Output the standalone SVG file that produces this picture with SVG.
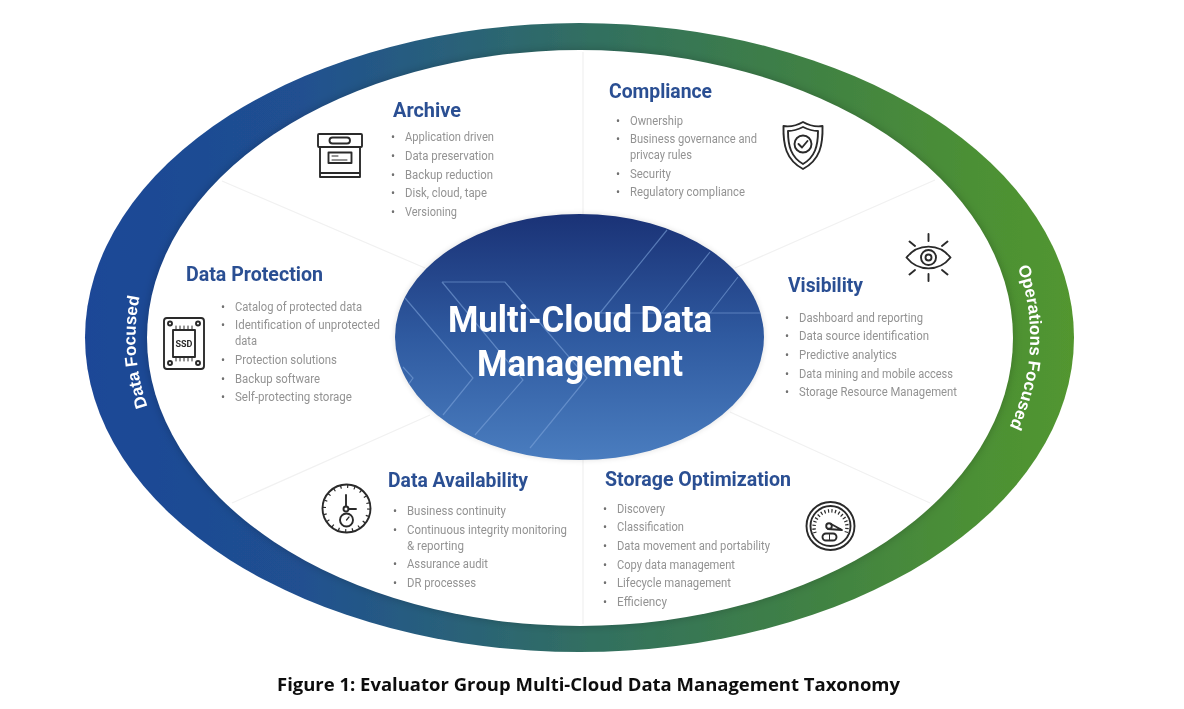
<svg xmlns="http://www.w3.org/2000/svg" width="1184" height="709" viewBox="0 0 1184 709">
<style>
text{font-family:Roboto,"Liberation Sans",sans-serif}
.h{font-size:20px;font-weight:700;fill:#2b4f93}
.l{font-size:12px;fill:#939393}
.b{font-size:12px;fill:#707070}
.c{font-size:36px;font-weight:700;fill:#fff}
.r{font-size:17px;font-weight:700;fill:#fff;font-family:"Liberation Sans",Arial,sans-serif}
.i{fill:none;stroke:#2a2a2a;stroke-width:1.9;stroke-linecap:round;stroke-linejoin:round}
.d{stroke:#f1f1f1;stroke-width:1.2;fill:none}
.g{stroke:#7ba2d8;stroke-opacity:.6;stroke-width:1.2;fill:none}
.soft{filter:url(#soft)}
</style>
<defs>
<linearGradient id="ring" x1="85" y1="0" x2="1074" y2="0" gradientUnits="userSpaceOnUse">
<stop offset="0" stop-color="#1d4797"/><stop offset=".22" stop-color="#205090"/><stop offset=".38" stop-color="#2a6278"/><stop offset=".52" stop-color="#32705f"/><stop offset=".72" stop-color="#3f8045"/><stop offset=".9" stop-color="#4c9035"/><stop offset="1" stop-color="#52962f"/>
</linearGradient>
<linearGradient id="core" x1="0" y1="0" x2="0" y2="1">
<stop offset="0" stop-color="#1a3276"/><stop offset=".5" stop-color="#2f5aa0"/><stop offset="1" stop-color="#4a7dbf"/>
</linearGradient>
<filter id="soft" x="-5%" y="-5%" width="110%" height="110%"><feGaussianBlur stdDeviation="0.45"/></filter>
<filter id="shadow" x="-10%" y="-10%" width="120%" height="120%"><feGaussianBlur stdDeviation="5"/></filter>
<filter id="halo" x="-10%" y="-10%" width="120%" height="120%"><feGaussianBlur stdDeviation="2"/></filter>
<clipPath id="coreClip"><ellipse cx="579.5" cy="337" rx="184.500" ry="123"/></clipPath>
<path id="arcL" d="M148,408 A445 300 0 0 1 140,295"/>
<path id="arcR" d="M1018,268 A450 300 0 0 1 1010,426"/>
</defs>
<rect width="1184" height="709" fill="#fff"/>

<g id="ring-band">
<ellipse cx="579.5" cy="337.5" rx="494.5" ry="314.5" fill="url(#ring)" class="soft"/>
<ellipse cx="580" cy="338" rx="433" ry="288" fill="#000" fill-opacity=".22" filter="url(#shadow)"/>
<ellipse cx="580" cy="338" rx="433" ry="288" fill="#fff"/>
</g>

<g id="connectors">
<path class="d" d="M583,52V214M583,460V624M222,181L425,268M232,503L430,415M735,268L935,180M730,412L930,503"/>
</g>

<g id="band-labels" class="soft">
<text class="r" id="data-focused"><textPath href="#arcL" startOffset="50%" text-anchor="middle">Data Focused</textPath></text>
<text class="r" id="operations-focused"><textPath href="#arcR" startOffset="50%" text-anchor="middle">Operations Focused</textPath></text>
</g>

<g id="center">
<ellipse cx="579.5" cy="337" rx="186" ry="124.5" fill="#000" fill-opacity=".08" filter="url(#halo)"/>
<ellipse cx="579.5" cy="337" rx="184.500" ry="123" fill="url(#core)"/>
<g clip-path="url(#coreClip)">
<path class="g" d="M442,282H505L587,378L530,448M442,282L523,380L475,435M405,298L473,378L443,415M403,367L413,378L403,392M667,230L600,313H760M710,252L662,313M738,277L710,313"/>
</g>
<g class="soft">
<text class="c" x="448" y="331.5" textLength="264" lengthAdjust="spacingAndGlyphs">Multi-Cloud Data</text>
<text class="c" x="477" y="376" textLength="206" lengthAdjust="spacingAndGlyphs">Management</text>
</g>
</g>

<g id="archive" class="soft">
<text class="h" x="393" y="117" textLength="68" lengthAdjust="spacingAndGlyphs">Archive</text>
<g class="b"><text x="391" y="141">•</text><text x="391" y="160">•</text><text x="391" y="178.5">•</text><text x="391" y="197">•</text><text x="391" y="215.5">•</text></g>
<g class="l">
<text x="405" y="141" textLength="89" lengthAdjust="spacingAndGlyphs">Application driven</text>
<text x="405" y="160" textLength="89" lengthAdjust="spacingAndGlyphs">Data preservation</text>
<text x="405" y="178.5" textLength="88" lengthAdjust="spacingAndGlyphs">Backup reduction</text>
<text x="405" y="197" textLength="82" lengthAdjust="spacingAndGlyphs">Disk, cloud, tape</text>
<text x="405" y="215.5" textLength="52" lengthAdjust="spacingAndGlyphs">Versioning</text>
</g>
<g class="i">
<rect x="318" y="134" width="44" height="13" rx="1"/><rect x="329.5" y="137.5" width="20.5" height="6" rx="3"/>
<path d="M320,147V177H360V147M320,173H360"/><rect x="328.5" y="152.5" width="23" height="10.5"/>
<path d="M332,156H338M332,160H347" stroke-width="1"/>
</g>
</g>

<g id="compliance" class="soft">
<text class="h" x="609" y="98" textLength="103" lengthAdjust="spacingAndGlyphs">Compliance</text>
<g class="b"><text x="616" y="124.5">•</text><text x="616" y="143">•</text><text x="616" y="177.5">•</text><text x="616" y="196">•</text></g>
<g class="l">
<text x="630" y="124.5" textLength="53" lengthAdjust="spacingAndGlyphs">Ownership</text>
<text x="630" y="143" textLength="127" lengthAdjust="spacingAndGlyphs">Business governance and</text>
<text x="630" y="159" textLength="62" lengthAdjust="spacingAndGlyphs">privcay rules</text>
<text x="630" y="177.5" textLength="41" lengthAdjust="spacingAndGlyphs">Security</text>
<text x="630" y="196" textLength="115" lengthAdjust="spacingAndGlyphs">Regulatory compliance</text>
</g>
<g class="i">
<path d="M803,122C796,126 790,127 783.5,126C783,145 786,160 803,169C820,160 823,145 822.5,126C816,127 810,126 803,122Z"/>
<path d="M803,127C797,130 793,131 788,131C788,146 791,157 803,164C815,157 818,146 818,131C813,131 809,130 803,127Z"/>
<circle cx="803" cy="144" r="8.5"/><path d="M798.5,144L802,147.5L807.5,141"/>
</g>
</g>

<g id="data-protection" class="soft">
<text class="h" x="186" y="280.5" textLength="137" lengthAdjust="spacingAndGlyphs">Data Protection</text>
<g class="b"><text x="221" y="310.5">•</text><text x="221" y="329">•</text><text x="221" y="364">•</text><text x="221" y="382.500">•</text><text x="221" y="401">•</text></g>
<g class="l">
<text x="235" y="310.5" textLength="127" lengthAdjust="spacingAndGlyphs">Catalog of protected data</text>
<text x="235" y="329" textLength="145" lengthAdjust="spacingAndGlyphs">Identification of unprotected</text>
<text x="235" y="345" textLength="22" lengthAdjust="spacingAndGlyphs">data</text>
<text x="235" y="364" textLength="102" lengthAdjust="spacingAndGlyphs">Protection solutions</text>
<text x="235" y="382.5" textLength="85" lengthAdjust="spacingAndGlyphs">Backup software</text>
<text x="235" y="401" textLength="117" lengthAdjust="spacingAndGlyphs">Self-protecting storage</text>
</g>
<g class="i">
<rect x="164" y="318" width="40" height="51" rx="3"/><rect x="173" y="330" width="22" height="27"/>
<circle cx="170" cy="323.5" r="2"/><circle cx="198" cy="323.5" r="2"/><circle cx="170" cy="363" r="2"/><circle cx="198" cy="363" r="2"/>
<path d="M176,330V326M180,330V326M184,330V326M188,330V326M192,330V326M176,357V361M180,357V361M184,357V361M188,357V361M192,357V361" stroke-width="1"/>
</g>
<text x="184" y="347" text-anchor="middle" font-size="9" font-weight="700" fill="#2a2a2a">SSD</text>
</g>

<g id="visibility" class="soft">
<text class="h" x="788" y="291.5" textLength="75" lengthAdjust="spacingAndGlyphs">Visibility</text>
<g class="b"><text x="785" y="321.5">•</text><text x="785" y="340">•</text><text x="785" y="359">•</text><text x="785" y="377.5">•</text><text x="785" y="396">•</text></g>
<g class="l">
<text x="799" y="321.5" textLength="124" lengthAdjust="spacingAndGlyphs">Dashboard and reporting</text>
<text x="799" y="340" textLength="130" lengthAdjust="spacingAndGlyphs">Data source identification</text>
<text x="799" y="359" textLength="98" lengthAdjust="spacingAndGlyphs">Predictive analytics</text>
<text x="799" y="377.5" textLength="154" lengthAdjust="spacingAndGlyphs">Data mining and mobile access</text>
<text x="799" y="396" textLength="158" lengthAdjust="spacingAndGlyphs">Storage Resource Management</text>
</g>
<g class="i">
<path d="M906.5,257.5C918,243 939,243 950.5,257.5C939,272 918,272 906.5,257.5Z"/>
<circle cx="928.5" cy="257.5" r="7.5"/><circle cx="928.5" cy="257.5" r="3"/>
<path d="M928.5,234V241M928.5,274V281M909.5,241.5L915,246M947.500,241.500L942,246M909.500,274.500L915,270M947.500,274.500L942,270"/>
</g>
</g>

<g id="data-availability" class="soft">
<text class="h" x="388" y="486.5" textLength="140" lengthAdjust="spacingAndGlyphs">Data Availability</text>
<g class="b"><text x="393" y="515">•</text><text x="393" y="533.5">•</text><text x="393" y="568">•</text><text x="393" y="587">•</text></g>
<g class="l">
<text x="407" y="515" textLength="99" lengthAdjust="spacingAndGlyphs">Business continuity</text>
<text x="407" y="533.5" textLength="160" lengthAdjust="spacingAndGlyphs">Continuous integrity monitoring</text>
<text x="407" y="549.5" textLength="57" lengthAdjust="spacingAndGlyphs">&amp; reporting</text>
<text x="407" y="568" textLength="81" lengthAdjust="spacingAndGlyphs">Assurance audit</text>
<text x="407" y="587" textLength="69" lengthAdjust="spacingAndGlyphs">DR processes</text>
</g>
<g class="i">
<circle cx="346.5" cy="508.5" r="24"/>
<circle cx="346.5" cy="508.5" r="22" stroke-width="3" stroke-linecap="butt" stroke-dasharray="1.200 5.710"/>
<path d="M346,495V506M348.5,509H356"/><circle cx="346" cy="509" r="2.5"/>
<circle cx="346.5" cy="520" r="6.5"/><path d="M346.5,520L349,517" stroke-width="1.200"/>
</g>
</g>

<g id="storage-optimization" class="soft">
<text class="h" x="605" y="485.5" textLength="186" lengthAdjust="spacingAndGlyphs">Storage Optimization</text>
<g class="b"><text x="603" y="512.5">•</text><text x="603" y="531">•</text><text x="603" y="550">•</text><text x="603" y="568.5">•</text><text x="603" y="587">•</text><text x="603" y="606">•</text></g>
<g class="l">
<text x="617" y="512.5" textLength="48" lengthAdjust="spacingAndGlyphs">Discovery</text>
<text x="617" y="531" textLength="67" lengthAdjust="spacingAndGlyphs">Classification</text>
<text x="617" y="550" textLength="153" lengthAdjust="spacingAndGlyphs">Data movement and portability</text>
<text x="617" y="568.5" textLength="118" lengthAdjust="spacingAndGlyphs">Copy data management</text>
<text x="617" y="587" textLength="114" lengthAdjust="spacingAndGlyphs">Lifecycle management</text>
<text x="617" y="606" textLength="50" lengthAdjust="spacingAndGlyphs">Efficiency</text>
</g>
<g class="i">
<circle cx="830.5" cy="526" r="24"/><circle cx="830.5" cy="526" r="20"/>
<path d="M815,533A16.500 16.500 0 1 1 846,533" stroke-width="3.500" stroke-linecap="butt" stroke-dasharray="1.200 2.400"/>
<circle cx="829" cy="526" r="2.800"/><path d="M831,524L842,530L828,529"/>
<rect x="822.5" y="533.5" width="14" height="7" rx="3.500"/><path d="M829.5,534.5V539.5" stroke-width="1"/>
</g>
</g>

<text id="caption" class="soft" x="277" y="691" font-size="18" font-weight="700" fill="#111" style="font-family:'Open Sans','Liberation Sans',sans-serif" textLength="623" lengthAdjust="spacingAndGlyphs">Figure 1: Evaluator Group Multi-Cloud Data Management Taxonomy</text>
</svg>
